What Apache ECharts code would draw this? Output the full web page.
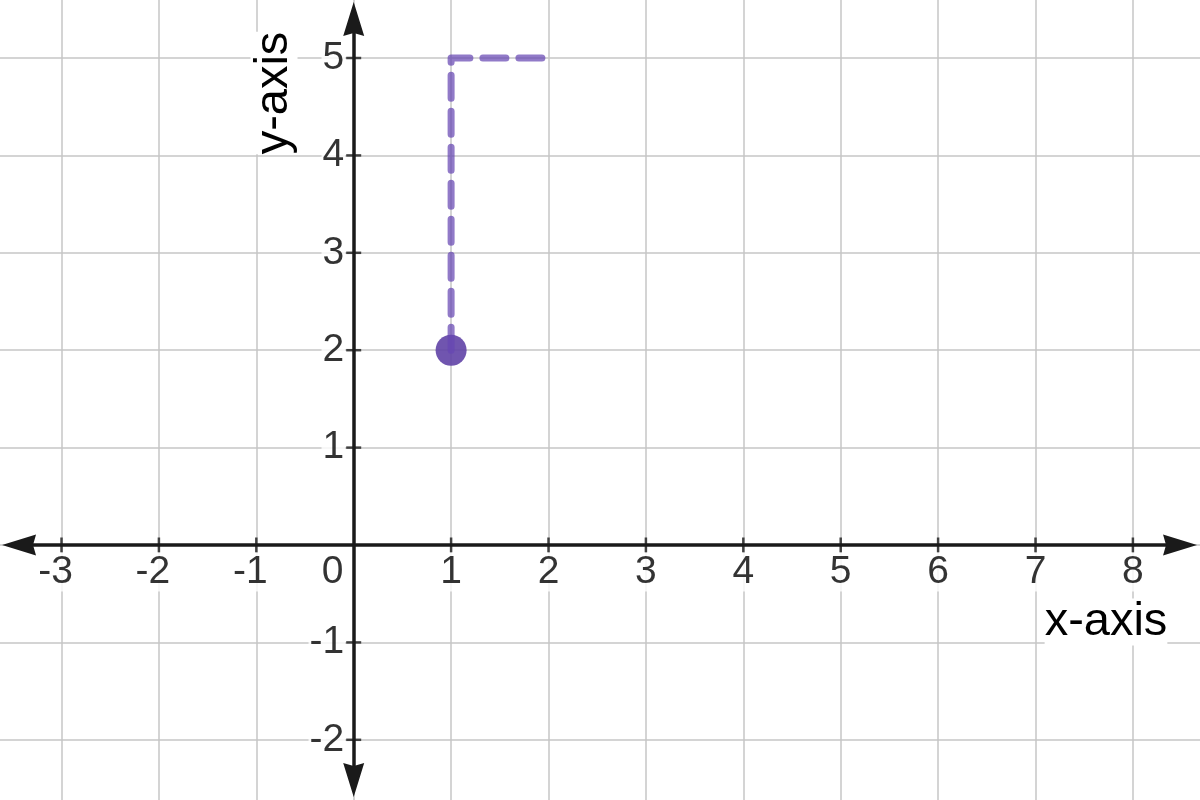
<!DOCTYPE html>
<html><head><meta charset="utf-8">
<script src="https://cdn.jsdelivr.net/npm/echarts@6/dist/echarts.min.js"></script>
<style>html,body{margin:0;padding:0;background:#fff}#c{width:1200px;height:800px}</style>
</head><body><div id="c"></div>
<script>
// ---- data ----
const xTickValues = [-3, -2, -1, 1, 2, 3, 4, 5, 6, 7, 8];
const yTickValues = [-2, -1, 1, 2, 3, 4, 5];
const originLabel = '0';
const pathPoints = [[1, 2], [1, 5], [2, 5]];
const pointValues = [[1, 2]];
const xAxisExtent = [-3.436, 8.484];
const yAxisExtent = [-2.413, 5.40];
const xRange = [-4, 9];
const yRange = [-3, 6];
const xTitle = 'x-axis';
const yTitle = 'y-axis';

const FONT = '"Liberation Sans", Arial, Helvetica, sans-serif';
const ARROW = 'path://M0,0 L10,34 L0,31 L-10,34 Z';
const TICK_FS = 39;

const chart = echarts.init(document.getElementById('c'), null, {renderer: 'canvas'});

const gridLine = {show: true, lineStyle: {color: '#c6c6c6', width: 1.5}};
const lblBase = {fontSize: TICK_FS, fontFamily: FONT, color: '#000'};

const option = {
  animation: false,
  backgroundColor: '#fff',
  grid: {left: -35.9, right: -30.3, top: -39.4, bottom: -37.2, containLabel: false, outerBoundsMode: 'none'},
  xAxis: {
    type: 'value', min: xRange[0], max: xRange[1], interval: 1,
    axisLine: {show: false},
    axisTick: {show: false},
    axisLabel: {show: false},
    splitLine: gridLine
  },
  yAxis: {
    type: 'value', min: yRange[0], max: yRange[1], interval: 1,
    axisLine: {show: false},
    axisTick: {show: false},
    axisLabel: {show: false},
    splitLine: gridLine
  },
  graphic: [
    {type: 'text', x: 1106, y: 622, z: 5,
     style: {text: xTitle, font: '47px ' + FONT, fill: '#000', align: 'center', verticalAlign: 'middle', backgroundColor: '#fff'}},
    {type: 'text', x: 274, y: 93, z: 5, rotation: Math.PI / 2,
     style: {text: yTitle, font: '47px ' + FONT, fill: '#000', align: 'center', verticalAlign: 'middle', backgroundColor: '#fff'}}
  ],
  series: [
    {
      type: 'scatter', silent: true, symbol: 'rect', symbolSize: [2.5, 15],
      itemStyle: {color: '#1a1a1a'},
      data: xTickValues.map(v => [v, 0]),
      label: {
        show: true, position: 'bottom', distance: 0, color: '#000',
        fontSize: TICK_FS, fontFamily: FONT,
        formatter: p => p.value[0] < 0 ? '{n|' + p.value[0] + '}' : '{p|' + p.value[0] + '}',
        rich: {
          n: Object.assign({}, lblBase, {backgroundColor: '#fff', padding: [0, 13, 0, 1]}),
          p: Object.assign({}, lblBase, {backgroundColor: '#fff', padding: [0, 1, 0, 1]})
        }
      },
      markLine: {
        silent: true, animation: false,
        symbol: [ARROW, ARROW], symbolSize: [21, 34],
        lineStyle: {color: '#1a1a1a', width: 3.5, type: 'solid'},
        itemStyle: {color: '#1a1a1a'},
        label: {show: false},
        emphasis: {disabled: true},
        data: [
          [{coord: [xAxisExtent[0], 0]}, {coord: [xAxisExtent[1], 0]}],
          [{coord: [0, yAxisExtent[0]]}, {coord: [0, yAxisExtent[1]]}]
        ]
      }
    },
    {
      type: 'scatter', silent: true, symbol: 'rect', symbolSize: [15, 2.5],
      itemStyle: {color: '#1a1a1a'},
      data: yTickValues.map(v => [0, v]),
      label: {
        show: true, position: 'left', distance: 1,
        fontSize: TICK_FS, fontFamily: FONT, color: '#000',
        backgroundColor: '#fff', padding: [0, 1, 0, 1],
        formatter: p => String(p.value[1])
      }
    },
    {
      type: 'scatter', silent: true, symbol: 'rect', symbolSize: [2.5, 15],
      itemStyle: {color: 'rgba(0,0,0,0)'},
      data: [[0, 0]],
      label: {
        show: true, position: 'bottom', distance: 0, offset: [-21, 0],
        fontSize: TICK_FS, fontFamily: FONT, color: '#000',
        formatter: () => originLabel
      }
    },
    {
      type: 'scatter', silent: true, symbol: 'circle', symbolSize: 31,
      itemStyle: {color: '#6042a6', opacity: 0.9},
      data: pointValues
    },
    {
      type: 'line', silent: true, showSymbol: false, symbol: 'none',
      lineStyle: {color: '#6746b3', opacity: 0.72, width: 7, type: [23, 13], cap: 'round', join: 'round'},
      data: pathPoints
    }
  ]
};
chart.setOption(option);
</script>
</body></html>
